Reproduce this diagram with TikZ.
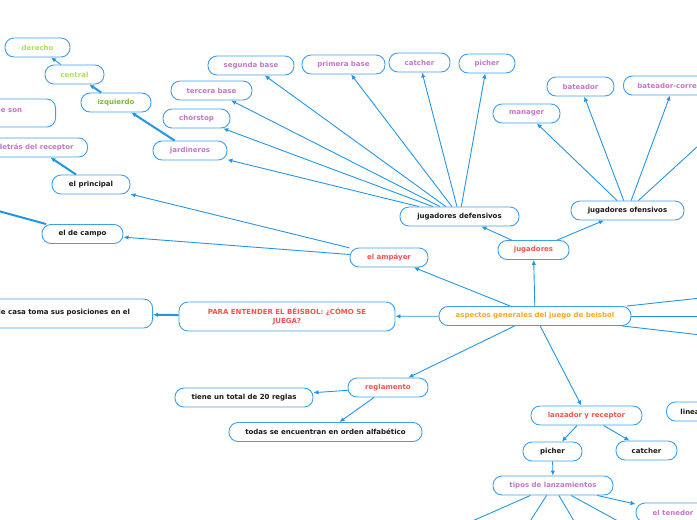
\documentclass[tikz,border=0pt]{standalone}
\usepackage{fontspec}
\setmainfont{DejaVu Sans}
\usetikzlibrary{arrows.meta}
\definecolor{linkblue}{RGB}{33,150,230}
\definecolor{boxblue}{RGB}{62,160,236}
\definecolor{txtred}{RGB}{240,84,74}
\definecolor{txtorange}{RGB}{250,168,30}
\definecolor{txtpink}{RGB}{196,118,200}
\definecolor{txtlime}{RGB}{176,224,86}
\definecolor{txtgreen}{RGB}{124,184,54}
\definecolor{txtdark}{RGB}{25,25,25}

\begin{document}
\begin{tikzpicture}[x=1pt,y=1pt,
  idea/.style={draw=boxblue, line width=0.9pt, rounded corners=9pt, fill=white,
    minimum height=19pt, inner xsep=14pt, inner ysep=2pt, align=center,
    font=\bfseries\fontsize{7}{9}\selectfont},
  redidea/.style={idea, text=txtred},
  pinkidea/.style={idea, text=txtpink},
  darkidea/.style={idea, text=txtdark},
  link/.style={draw=linkblue, line width=0.9pt, -{Latex[length=5pt,width=4.5pt]}},
  heavylink/.style={link, line width=2pt}]
\useasboundingbox (0,0) rectangle (697,-520);

% centre
\draw (535,-316)   node (aspectos) [idea, text=txtorange, minimum width=192] {aspectos generales del juego de beisbol};
\draw (287,-316.5) node (para) [redidea, minimum width=216, minimum height=29] {PARA ENTENDER EL BÉISBOL: ¿CÓMO SE\\JUEGA?};
\draw (153,-313.5) node (casa) [darkidea, anchor=east, minimum width=179, minimum height=29] {\raisebox{3pt}{de casa toma sus posiciones en el}};
\draw (aspectos) -- (para) [link];
\draw (para) -- (casa) [heavylink];

\coordinate (rightA) at (710,-297);
\coordinate (rightB) at (710,-316);
\coordinate (rightC) at (710,-336);
\draw (aspectos) -- (rightA) [link];
\draw (aspectos) -- (rightB) [link];
\draw (aspectos) -- (rightC) [link];

% el ampayer
\draw (389,-257.5) node (ampayer) [redidea, minimum width=78] {el ampáyer};
\draw (91,-184.5)  node (principal) [darkidea, minimum width=78] {el principal};
\draw (82.5,-234)  node (decampo) [darkidea, minimum width=81] {el de campo};
\draw (88,-147.5)  node (detras) [pinkidea, anchor=east, minimum width=98] {detrás del receptor};
\draw (56,-113)    node (queson) [pinkidea, anchor=east, minimum width=98, minimum height=28] {\raisebox{4pt}{que son}};
\coordinate (leftA) at (-20,-206);
\draw (aspectos) -- (ampayer) [link];
\draw (ampayer) -- (principal) [link];
\draw (ampayer) -- (decampo) [link];
\draw (principal) -- (detras) [heavylink];
\draw (decampo) -- (leftA) [heavylink];

% jugadores
\draw (533.5,-250) node (jugadores) [redidea, minimum width=71] {jugadores};
\draw (459.5,-216.5) node (defensivos) [darkidea, minimum width=119] {jugadores defensivos};
\draw (627.5,-210.5) node (ofensivos) [darkidea, minimum width=113] {jugadores ofensivos};
\draw (aspectos) -- (jugadores) [link];
\draw (jugadores) -- (defensivos) [link];
\draw (jugadores) -- (ofensivos) [link];

\draw (251,-65.5)   node (segunda) [pinkidea, minimum width=86] {segunda base};
\draw (343.5,-64.5) node (primera) [pinkidea, minimum width=83] {primera base};
\draw (419.5,-62.5) node (catcher) [pinkidea, minimum width=61] {catcher};
\draw (487,-63.5)   node (picher) [pinkidea, minimum width=56] {picher};
\draw (211.5,-90.5) node (tercera) [pinkidea, minimum width=81] {tercera base};
\draw (196.5,-118.5) node (chorstop) [pinkidea, minimum width=67] {chorstop};
\draw (190,-150.5)  node (jardineros) [pinkidea, minimum width=74] {jardineros};
\foreach \base in {jardineros,chorstop,tercera,segunda,primera,catcher,picher}
  \draw (defensivos) -- (\base) [link];

\draw (116,-102.5) node (izquierdo) [idea, text=txtgreen, minimum width=70] {izquierdo};
\draw (74.5,-74.5) node (central) [idea, text=txtlime, minimum width=59] {central};
\draw (37.5,-47.5) node (derecho) [idea, text=txtlime, minimum width=65] {derecho};
\draw (jardineros) -- (izquierdo) [heavylink];
\draw (izquierdo) -- (central) [heavylink];
\draw (central) -- (derecho) [link];

\draw (526.5,-113.5) node (manager) [pinkidea, minimum width=67] {manager};
\draw (580.5,-86.5)  node (bateador) [pinkidea, minimum width=67] {bateador};
\draw (623,-85.5)    node (corredor) [pinkidea, anchor=west] {bateador-corredor};
\coordinate (rightD) at (710,-135);
\foreach \ofe in {manager,bateador,corredor,rightD}
  \draw (ofensivos) -- (\ofe) [link];

% reglamento
\draw (388,-387.5) node (reglamento) [redidea, minimum width=80] {reglamento};
\draw (244,-397.5) node (reglas) [darkidea, minimum width=138] {tiene un total de 20 reglas};
\draw (325.5,-432) node (todas) [darkidea, minimum width=193] {todas se encuentran en orden alfabético};
\draw (aspectos) -- (reglamento) [link];
\draw (reglamento) -- (reglas) [link];
\draw (reglamento) -- (todas) [link];

% lanzador y receptor
\draw (586.5,-415.5) node (lanzador) [redidea, minimum width=111] {lanzador y receptor};
\draw (552.5,-451.5) node (picherB) [darkidea, minimum width=59] {picher};
\draw (646.5,-450.5) node (catcherB) [darkidea, minimum width=61] {catcher};
\draw (553,-485.5)   node (tipos) [pinkidea, minimum width=120] {tipos de lanzamientos};
\draw (673,-512.5)   node (tenedor) [pinkidea, minimum width=74] {el tenedor};
\draw (666,-411.5)   node (lineas) [darkidea, anchor=west] {lineas};
\draw (aspectos) -- (lanzador) [link];
\draw (lanzador) -- (picherB) [link];
\draw (lanzador) -- (catcherB) [link];
\draw (picherB) -- (tipos) [link];
\draw (tipos) -- (tenedor) [link];

\coordinate (downA) at (461,-526);
\coordinate (downB) at (527,-526);
\coordinate (downC) at (577,-526);
\coordinate (downD) at (627,-526);
\foreach \tipo in {downA,downB,downC,downD}
  \draw (tipos) -- (\tipo) [link];

\end{tikzpicture}
\end{document}
